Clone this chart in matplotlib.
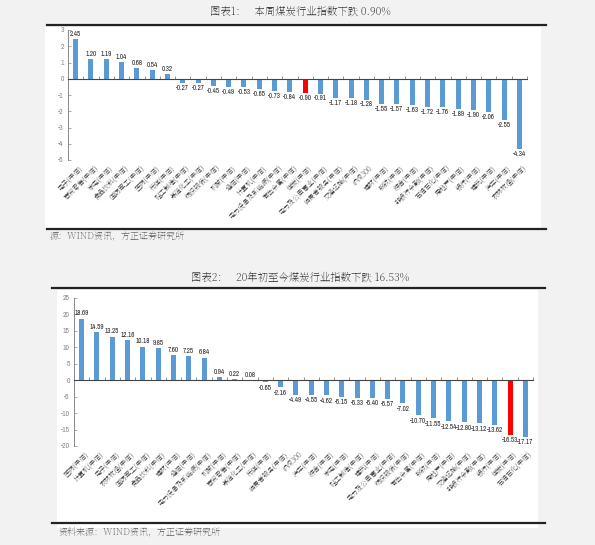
"""Two bar charts: weekly and YTD change of CITIC industry indices (coal highlighted)."""

import matplotlib

matplotlib.use("Agg")
import matplotlib.pyplot as plt
import matplotlib.transforms as mtransforms
from matplotlib.patches import Rectangle
from matplotlib.lines import Line2D

plt.rcParams["font.family"] = ["Noto Serif SC", "Noto Sans CJK SC", "DejaVu Sans"]

week_names = [
    "电子(中信)", "商贸零售(中信)", "家电(中信)", "食品饮料(中信)", "国防军工(中信)",
    "医药(中信)", "传媒(中信)", "轻工制造(中信)", "基础化工(中信)", "纺织服装(中信)",
    "机械(中信)", "通信(中信)", "计算机(中信)", "电力设备及新能源(中信)", "有色金属(中信)",
    "煤炭(中信)", "电力及公用事业(中信)", "消费者服务(中信)", "交通运输(中信)", "沪深300",
    "建材(中信)", "钢铁(中信)", "综合(中信)", "非银行金融(中信)", "石油石化(中信)",
    "房地产(中信)", "银行(中信)", "建筑(中信)", "汽车(中信)", "农林牧渔(中信)",
]
week_values = [
    2.45, 1.20, 1.19, 1.04, 0.68, 0.54, 0.32, -0.27, -0.27, -0.45,
    -0.49, -0.53, -0.65, -0.73, -0.84, -0.90, -0.91, -1.17, -1.18, -1.28,
    -1.55, -1.57, -1.63, -1.72, -1.76, -1.89, -1.90, -2.06, -2.55, -4.34,
]

ytd_names = [
    "医药(中信)", "计算机(中信)", "电子(中信)", "农林牧渔(中信)", "国防军工(中信)",
    "食品饮料(中信)", "建材(中信)", "通信(中信)", "电力设备及新能源(中信)", "机械(中信)",
    "商贸零售(中信)", "基础化工(中信)", "传媒(中信)", "消费者服务(中信)", "沪深300",
    "汽车(中信)", "综合(中信)", "家电(中信)", "轻工制造(中信)", "建筑(中信)",
    "电力及公用事业(中信)", "纺织服装(中信)", "有色金属(中信)", "钢铁(中信)", "房地产(中信)",
    "交通运输(中信)", "非银行金融(中信)", "银行(中信)", "煤炭(中信)", "石油石化(中信)",
]
ytd_values = [
    18.69, 14.59, 13.25, 12.16, 10.18, 9.85, 7.60, 7.25, 6.84, 0.94,
    0.22, 0.08, -0.65, -2.16, -4.49, -4.55, -4.62, -5.15, -5.33, -5.40,
    -5.57, -7.02, -10.70, -11.55, -12.54, -12.80, -13.12, -13.62, -16.53, -17.17,
]

BLUE = "#5B9BD5"
RED = "#FF0000"
NUM_FONT = ["Archivo Narrow", "PT Sans Narrow", "DejaVu Sans"]

W, H = 595, 545


def fx(px):
    return px / W


def fy(py):
    return 1 - py / H


def draw_bars(ax, names, values, ylim, yticks, offset):
    x = list(range(len(values)))
    colors = [RED if n.startswith("煤炭") else BLUE for n in names]
    ax.bar(x, values, width=0.33, color=colors, zorder=2)
    ax.set_xlim(-0.5, len(values) - 0.5)
    ax.set_ylim(*ylim)
    ax.set_yticks(yticks)
    ax.set_yticklabels([str(t) for t in yticks], family=NUM_FONT, fontsize=5.5, color="#333")
    ax.set_facecolor("none")
    for side in ("top", "right"):
        ax.spines[side].set_visible(False)
    ax.spines["bottom"].set_position(("data", 0))
    ax.spines["bottom"].set_color("#444")
    ax.spines["bottom"].set_linewidth(0.8)
    ax.spines["left"].set_color("#888")
    ax.spines["left"].set_linewidth(0.7)
    ax.set_xticks([i + 0.5 for i in range(-1, len(values))])
    ax.set_xticklabels([])
    ax.tick_params(axis="x", direction="in", length=2.5, width=0.5, colors="#666")
    ax.tick_params(axis="y", direction="in", length=2, width=0.5, colors="#888", pad=3)

    for xi, v in zip(x, values):
        va = "bottom" if v >= 0 else "top"
        dy = offset if v >= 0 else -offset
        ax.text(xi, v + dy, f"{v:.2f}", ha="center", va=va,
                family=NUM_FONT, fontsize=5, color="#222")

    trans = mtransforms.blended_transform_factory(ax.transData, ax.transAxes)
    for xi, n in zip(x, names):
        ax.text(xi + 0.2, -0.03, n, transform=trans, rotation=45, rotation_mode="anchor",
                ha="right", va="top", fontsize=4.9, color="#444")


fig = plt.figure(figsize=(W / 100, H / 100), dpi=100)
fig.patch.set_facecolor("#f2f2f2")

# white panels
fig.add_artist(Rectangle((fx(45), fy(228)), fx(541) - fx(45), fy(27) - fy(228),
                         transform=fig.transFigure, facecolor="white", edgecolor="none", zorder=0))
fig.add_artist(Rectangle((fx(57), fy(528)), fx(538) - fx(57), fy(290) - fy(528),
                         transform=fig.transFigure, facecolor="white", edgecolor="none", zorder=0))

# rules
for (x0, x1, y, lw) in [(47, 546, 25, 1.6), (47, 546, 229, 1.6), (52, 545, 288, 1.6), (52, 545, 523, 1.6)]:
    fig.add_artist(Line2D([fx(x0), fx(x1)], [fy(y), fy(y)], transform=fig.transFigure,
                          color="#222", linewidth=lw))

# titles and sources
fig.text(fx(300), fy(12), "图表1：   本周煤炭行业指数下跌 0.90%", ha="center", va="center",
         fontsize=7.5, color="#444")
fig.text(fx(300), fy(278), "图表2：   20年初至今煤炭行业指数下跌 16.53%", ha="center", va="center",
         fontsize=7.5, color="#444")
fig.text(fx(50), fy(237), "源：WIND资讯，方正证券研究所", ha="left", va="center",
         fontsize=6.5, color="#777", style="italic")
fig.text(fx(58), fy(531), "资料来源：WIND资讯，方正证券研究所", ha="left", va="center",
         fontsize=6.5, color="#777", style="italic")

ax1 = fig.add_axes([fx(68), fy(160), fx(527) - fx(68), fy(30) - fy(160)])
draw_bars(ax1, week_names, week_values, (-5, 3), list(range(-5, 4)), 0.12)

ax2 = fig.add_axes([fx(74), fy(446), fx(533) - fx(74), fy(298) - fy(446)])
draw_bars(ax2, ytd_names, ytd_values, (-20, 25), list(range(-20, 26, 5)), 0.7)

fig.savefig("out.png", dpi=100, facecolor=fig.get_facecolor())
